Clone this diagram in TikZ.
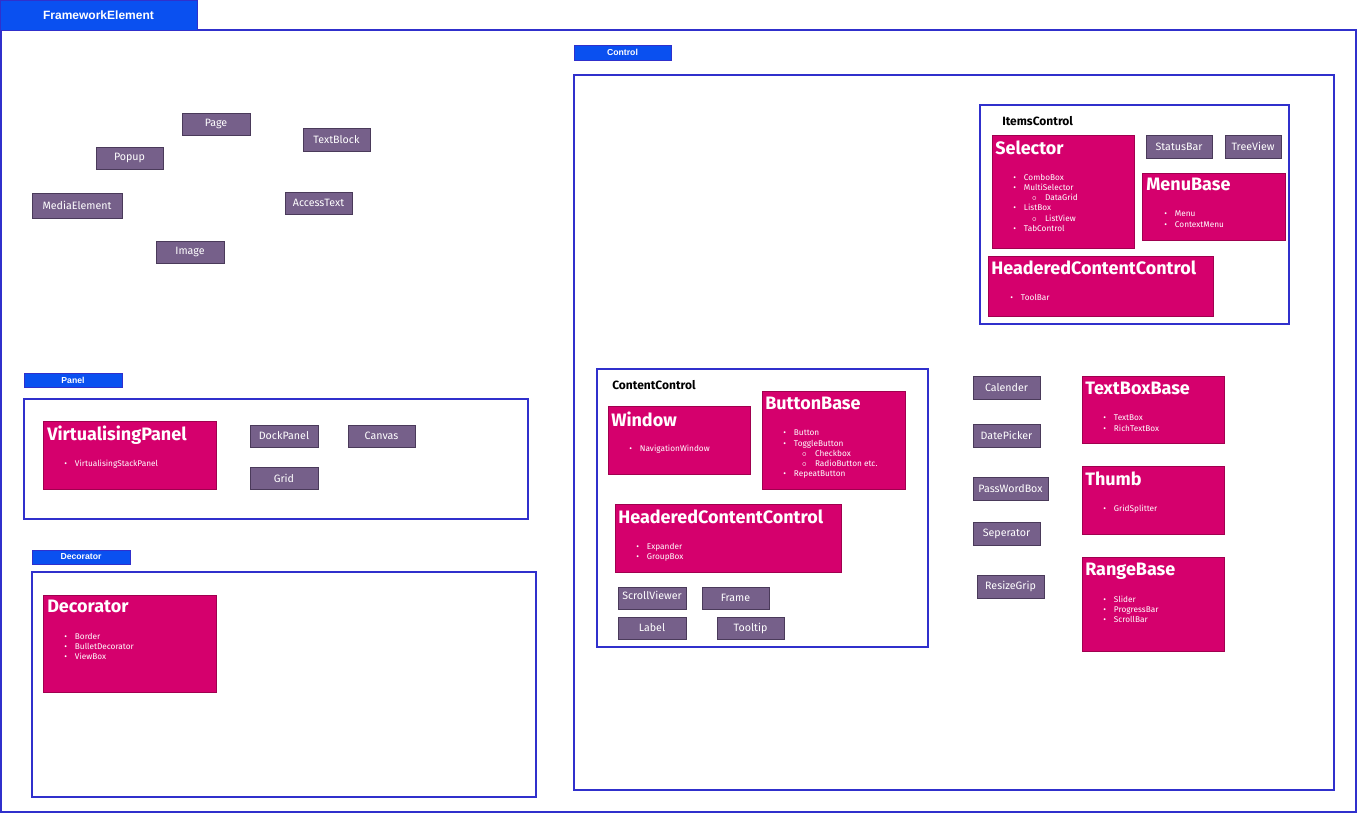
\documentclass[tikz,border=0pt]{standalone}
\usepackage{fontspec}
\setmainfont{Fira Sans}
\newfontfamily\tabfont{Liberation Sans}
\definecolor{fblue}{HTML}{0A50F0}
\definecolor{bord}{HTML}{3030CC}
\definecolor{gfill}{HTML}{76608A}
\definecolor{gbord}{HTML}{4A3A5A}
\definecolor{mag}{HTML}{D5006D}
\definecolor{mbord}{HTML}{A0004F}
\tikzset{
 gb/.style={draw=gbord,fill=gfill,text=white,font=\fontsize{8}{9}\selectfont,inner sep=0pt},
 mb/.style={draw=mbord,fill=mag,inner sep=0pt},
 ttl/.style={anchor=north west,text=white,font=\bfseries\fontsize{13.5}{15}\selectfont,inner sep=0pt},
 lst/.style={anchor=north west,text=white,font=\fontsize{6.2}{7.6}\selectfont,inner sep=0pt,align=left},
 frm/.style={draw=bord,line width=1.3pt},
 tab/.style={draw=bord,fill=fblue,text=white,font=\tabfont\bfseries\fontsize{6.5}{7}\selectfont,inner sep=0pt},
 lbl/.style={anchor=north west,font=\bfseries\fontsize{9}{10}\selectfont,inner sep=0pt}
}
\newcommand{\bx}[7]{\node[#1,minimum width={(#5-#3)*0.75pt},minimum height={(#6-#4)*0.75pt}] (#2) at ({(#3+#5)/2},{(#4+#6)/2}) {#7};}
\newcommand{\bl}{\textbullet\hspace{6pt}}
\newcommand{\sbl}{\hspace{14pt}$\circ$\hspace{6pt}}
\begin{document}
\begin{tikzpicture}[x=0.75pt,y=-0.75pt]
\useasboundingbox[fill=white] (0,0) rectangle (1358,814);
% outer
\bx{frm}{outer}{1}{30}{1356}{812}{}
\bx{tab,font=\tabfont\bfseries\fontsize{9}{10}\selectfont}{fe}{0}{0}{197}{30}{FrameworkElement}
% free grey boxes
\bx{gb}{page}{182}{113}{250}{135}{Page}
\bx{gb}{textblock}{303}{128}{370}{151}{TextBlock}
\bx{gb}{popup}{96}{147}{163}{169}{Popup}
\bx{gb}{media}{32}{193}{122}{218}{MediaElement}
\bx{gb}{access}{285}{192}{352}{214}{AccessText}
\bx{gb}{image}{156}{241}{224}{263}{Image}
% panel
\bx{tab}{paneltab}{24}{373}{122}{387}{Panel}
\bx{frm}{panel}{24}{399}{528}{519}{}
\bx{mb}{vp}{43}{421}{216}{489}{}
\node[ttl] (vpt) at (47,426) {VirtualisingPanel};
\node[lst] (vpl) at (64,460) {\bl VirtualisingStackPanel};
\bx{gb}{dock}{250}{425}{318}{447}{DockPanel}
\bx{gb}{canvas}{348}{425}{415}{447}{Canvas}
\bx{gb}{grid}{250}{467}{318}{489}{Grid}
% decorator
\bx{tab}{dectab}{32}{550}{130}{564}{Decorator}
\bx{frm}{dec}{32}{572}{536}{797}{}
\bx{mb}{decm}{43}{595}{216}{692}{}
\node[ttl] (dect) at (47,600) {Decorator};
\node[lst] (decl) at (64,633) {\bl Border\\\bl BulletDecorator\\\bl ViewBox};
% control
\bx{tab}{ctab}{574}{45}{671}{60}{Control}
\bx{frm}{ctrl}{574}{75}{1334}{790}{}
% items control
\bx{frm}{ic}{980}{105}{1289}{324}{}
\node[lbl] (icl) at (1002,116) {ItemsControl};
\bx{mb}{sel}{992}{135}{1134}{248}{}
\node[ttl] (selt) at (995,141) {Selector};
\node[lst] (sell) at (1013,174) {\bl ComboBox\\\bl MultiSelector\\\sbl DataGrid\\\bl ListBox\\\sbl ListView\\\bl TabControl};
\bx{gb}{status}{1146}{135}{1212}{158}{StatusBar}
\bx{gb}{tree}{1225}{135}{1281}{158}{TreeView}
\bx{mb}{menu}{1142}{173}{1285}{240}{}
\node[ttl] (menut) at (1146,178) {MenuBase};
\node[lst] (menul) at (1164,211) {\bl Menu\\\bl ContextMenu};
\bx{mb}{hcc}{988}{256}{1213}{316}{}
\node[ttl] (hcct) at (991,261) {HeaderedContentControl};
\node[lst] (hccl) at (1010,294) {\bl ToolBar};
% content control
\bx{frm}{cc}{597}{369}{928}{647}{}
\node[lbl] (ccl) at (612,380) {ContentControl};
\bx{mb}{win}{608}{406}{750}{474}{}
\node[ttl] (wint) at (611,412) {Window};
\node[lst] (winl) at (629,445) {\bl NavigationWindow};
\bx{mb}{bb}{762}{391}{905}{489}{}
\node[ttl] (bbt) at (765,397) {ButtonBase};
\node[lst] (bbl) at (783,430) {\bl Button\\\bl ToggleButton\\\sbl Checkbox\\\sbl RadioButton etc.\\\bl RepeatButton};
\bx{mb}{hcc2}{615}{504}{841}{572}{}
\node[ttl] (hcc2t) at (618,510) {HeaderedContentControl};
\node[lst] (hcc2l) at (636,543) {\bl Expander\\\bl GroupBox};
\bx{gb}{scroll}{618}{587}{686}{609}{\raisebox{4pt}{ScrollViewer}}
\bx{gb}{frame}{702}{587}{769}{609}{Frame}
\bx{gb}{label}{618}{617}{686}{639}{Label}
\bx{gb}{tooltip}{717}{617}{784}{639}{Tooltip}
% others
\bx{gb}{cal}{973}{376}{1040}{399}{Calender}
\bx{gb}{date}{973}{424}{1040}{447}{DatePicker}
\bx{gb}{pass}{973}{477}{1048}{500}{PassWordBox}
\bx{gb}{sep}{973}{522}{1040}{545}{Seperator}
\bx{gb}{resize}{977}{575}{1044}{598}{ResizeGrip}
\bx{mb}{tbb}{1082}{376}{1224}{443}{}
\node[ttl] (tbbt) at (1085,382) {TextBoxBase};
\node[lst] (tbbl) at (1103,415) {\bl TextBox\\\bl RichTextBox};
\bx{mb}{thumb}{1082}{466}{1224}{534}{}
\node[ttl] (thumbt) at (1085,472) {Thumb};
\node[lst] (thumbl) at (1103,505) {\bl GridSplitter};
\bx{mb}{rb}{1082}{557}{1224}{651}{}
\node[ttl] (rbt) at (1085,563) {RangeBase};
\node[lst] (rbl) at (1103,596) {\bl Slider\\\bl ProgressBar\\\bl ScrollBar};
\end{tikzpicture}
\end{document}
